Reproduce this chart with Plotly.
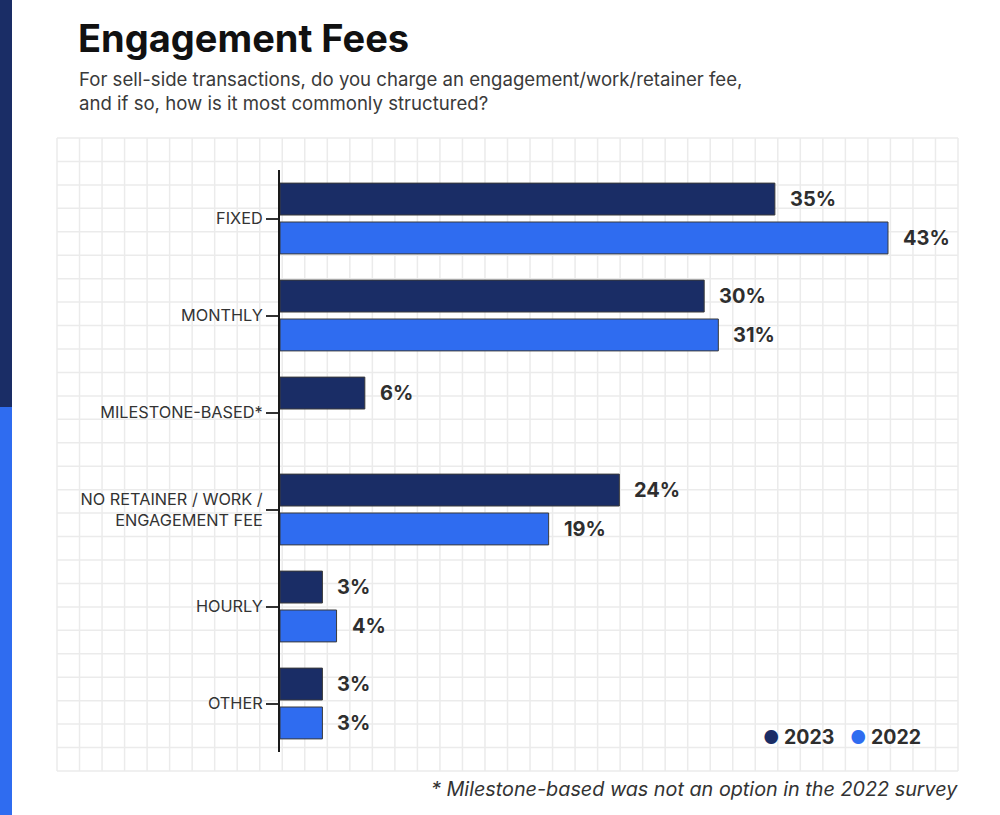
import plotly.graph_objects as go

# ---- data ----
categories = ["FIXED", "MONTHLY", "MILESTONE-BASED*", "NO RETAINER / WORK /<br>ENGAGEMENT FEE", "HOURLY", "OTHER"]
values_2023 = [35, 30, 6, 24, 3, 3]
values_2022 = [43, 31, None, 19, 4, 3]
series_names = ["2023", "2022"]

title_text = "Engagement Fees"
subtitle_text = "For sell-side transactions, do you charge an engagement/work/retainer fee,<br>and if so, how is it most commonly structured?"
footnote_text = "* Milestone-based was not an option in the 2022 survey"

# ---- styling ----
C2023 = "#1a2d66"
C2022 = "#2f6cf0"
TXT = "#2e2e2e"
FONT = "Inter"

W, H = 1000, 815
ML, MR, MT, MB = 280, 42, 170, 63
PW, PH = W - ML - MR, H - MT - MB
X_MAX = 47.95


def px(x):
    return (x - ML) / PW


def py(y):
    return (H - MB - y) / PH


fig = go.Figure()
for name, vals, col in [(series_names[0], values_2023, C2023), (series_names[1], values_2022, C2022)]:
    fig.add_trace(go.Bar(
        y=categories, x=vals, name=name, orientation="h",
        marker=dict(color=col, line=dict(color="#3a3a3a", width=1)),
        showlegend=False, hoverinfo="x+y",
    ))

shapes = []
# background grid
gx0, gx1, gy0, gy1 = 57, 958, 138, 771
ncols, nrows = 40, 27
for i in range(ncols + 1):
    x = gx0 + (gx1 - gx0) * i / ncols
    shapes.append(dict(type="line", xref="paper", yref="paper", x0=px(x), x1=px(x), y0=py(gy0), y1=py(gy1),
                       line=dict(color="#ebebeb", width=1.5), layer="below"))
for j in range(nrows + 1):
    y = gy0 + (gy1 - gy0) * j / nrows
    shapes.append(dict(type="line", xref="paper", yref="paper", x0=px(gx0), x1=px(gx1), y0=py(y), y1=py(y),
                       line=dict(color="#ebebeb", width=1.5), layer="below"))
# left accent band
shapes.append(dict(type="rect", xref="paper", yref="paper", x0=px(0), x1=px(12), y0=py(0), y1=py(407),
                   fillcolor=C2023, line=dict(width=0), layer="below"))
shapes.append(dict(type="rect", xref="paper", yref="paper", x0=px(0), x1=px(12), y0=py(407), y1=py(815),
                   fillcolor=C2022, line=dict(width=0), layer="below"))

annotations = []
# value labels
for vals, shift in [(values_2023, -19.5), (values_2022, 19.5)]:
    for cat, v in zip(categories, vals):
        if v is None:
            continue
        annotations.append(dict(x=v, y=cat, xref="x", yref="y", text=f"<b>{v}%</b>", showarrow=False,
                                xanchor="left", yanchor="middle", xshift=13, yshift=-shift,
                                font=dict(family=FONT, size=20, color=TXT)))
# title / subtitle / footnote
annotations.append(dict(x=px(76), y=py(13), xref="paper", yref="paper", text=f"<b>{title_text}</b>",
                        showarrow=False, xanchor="left", yanchor="top",
                        font=dict(family=FONT, size=38, color="#111111")))
annotations.append(dict(x=px(77), y=py(66), xref="paper", yref="paper", text=subtitle_text,
                        showarrow=False, xanchor="left", yanchor="top", align="left",
                        font=dict(family=FONT, size=18.6, color="#3a3a3a")))
annotations.append(dict(x=px(960), y=py(789), xref="paper", yref="paper", text=f"<i>{footnote_text}</i>",
                        showarrow=False, xanchor="right", yanchor="middle",
                        font=dict(family=FONT, size=19.8, color="#333333")))
# legend
for name, col, dx in [(series_names[0], C2023, 771), (series_names[1], C2022, 858)]:
    annotations.append(dict(x=px(dx), y=py(737), xref="paper", yref="paper", text="●", showarrow=False,
                            xanchor="center", yanchor="middle", font=dict(family=FONT, size=18, color=col)))
    annotations.append(dict(x=px(dx + 11), y=py(737), xref="paper", yref="paper", text=f"<b>{name}</b>",
                            showarrow=False, xanchor="left", yanchor="middle",
                            font=dict(family=FONT, size=19.5, color=TXT)))

fig.update_layout(
    width=W, height=H,
    margin=dict(l=ML, r=MR, t=MT, b=MB, autoexpand=False),
    paper_bgcolor="white", plot_bgcolor="rgba(0,0,0,0)",
    barmode="group", bargap=0.198, bargroupgap=0.18,
    shapes=shapes, annotations=annotations,
    xaxis=dict(range=[0, X_MAX], visible=False, fixedrange=True),
    yaxis=dict(autorange="reversed", showgrid=False, showline=True, linecolor="#1a1a1a", linewidth=2,
               ticks="outside", ticklen=12, tickwidth=1.5, tickcolor="#333333",
               tickfont=dict(family=FONT, size=16.3, color="#333333"), zeroline=False, fixedrange=True),
    font=dict(family=FONT),
)

fig.write_html("out.html")
